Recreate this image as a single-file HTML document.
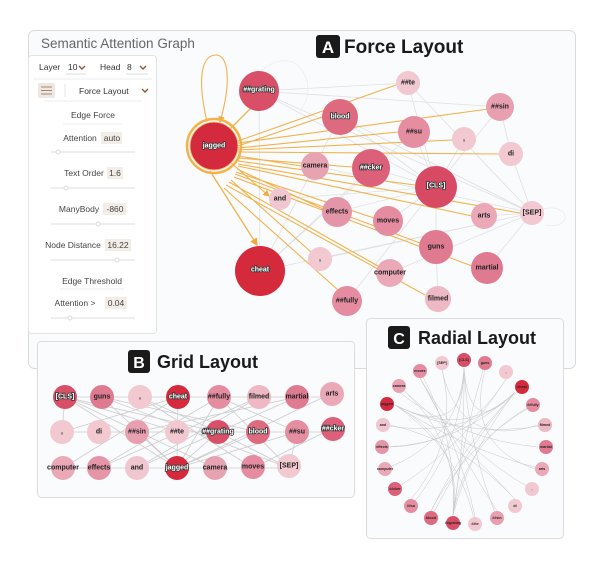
<!DOCTYPE html>
<html><head><meta charset="utf-8"><style>
body{margin:0;background:#fff;width:600px;height:567px;overflow:hidden;font-family:"Liberation Sans",sans-serif}
svg{display:block}
.t{font-family:"Liberation Sans",sans-serif;font-size:7px;font-weight:bold;fill:#222;text-anchor:middle;dominant-baseline:central}
.w{fill:#fff;stroke:#333;stroke-width:1.6;paint-order:stroke}
.s{font-family:"Liberation Sans",sans-serif;font-size:8.5px;fill:#444;text-anchor:middle}
.r{font-family:"Liberation Sans",sans-serif;font-size:3.6px;font-weight:bold;fill:#222;text-anchor:middle;dominant-baseline:central}
</style></head><body>
<svg width="600" height="567" viewBox="0 0 600 567">
<defs>
<marker id="ao" markerWidth="6" markerHeight="6" refX="5" refY="3" orient="auto"><path d="M0,0L6,3L0,6z" fill="#f0a93a"/></marker>
<marker id="ag" markerWidth="6" markerHeight="6" refX="5" refY="3" orient="auto"><path d="M0,0L6,3L0,6z" fill="#c8c8c8"/></marker>
</defs>
<!-- main panel -->
<rect x="28.5" y="30.5" width="547" height="338" rx="6" fill="#fafbfd" stroke="#d9d9d9"/>
<text x="41" y="48" font-size="13.5" fill="#666" font-family="Liberation Sans">Semantic Attention Graph</text>
<rect x="316" y="35" width="24" height="23" rx="3" fill="#1a1a1a"/>
<text x="328" y="53" font-size="17" font-weight="bold" fill="#fff" text-anchor="middle" font-family="Liberation Sans">A</text>
<text x="344" y="53" font-size="19" font-weight="bold" fill="#1a1a1a" font-family="Liberation Sans">Force Layout</text>
<!-- sidebar -->
<rect x="28.5" y="55.5" width="128" height="278" rx="3" fill="#fff" stroke="#e3e3e3"/>
<text x="39" y="70" font-size="8.5" fill="#333" font-family="Liberation Sans">Layer</text>
<text x="68" y="70" font-size="8.5" fill="#333" font-family="Liberation Sans">10</text>
<path d="M79,66l3,3l3,-3" stroke="#8a5a3a" stroke-width="1.4" fill="none"/>
<line x1="66" y1="74" x2="86" y2="74" stroke="#ddd"/>
<text x="100" y="70" font-size="8.5" fill="#333" font-family="Liberation Sans">Head</text>
<text x="127" y="70" font-size="8.5" fill="#333" font-family="Liberation Sans">8</text>
<path d="M140,66l3,3l3,-3" stroke="#8a5a3a" stroke-width="1.4" fill="none"/>
<line x1="126" y1="74" x2="148" y2="74" stroke="#ddd"/>
<line x1="33" y1="79" x2="152" y2="79" stroke="#eee"/>
<rect x="38" y="83" width="17" height="15" rx="2" fill="#efe8e2"/>
<path d="M41,87h11M41,90.5h11M41,94h11" stroke="#8a6a52" stroke-width="0.8"/>
<line x1="65" y1="84" x2="65" y2="97" stroke="#e5e5e5"/>
<text x="79" y="94" font-size="8.5" fill="#333" font-family="Liberation Sans">Force Layout</text>
<path d="M142,89l3,3l3,-3" stroke="#8a5a3a" stroke-width="1.4" fill="none"/>
<line x1="44" y1="101" x2="142" y2="101" stroke="#eee"/>
<text class="s" x="93" y="118" fill="#999">Edge Force</text>
<line x1="63" y1="124" x2="122" y2="124" stroke="#eee"/>
<text class="s" x="80" y="141">Attention</text><rect x="101" y="132" width="21" height="12" fill="#f3ede8"/><text class="s" x="112" y="141" fill="#8a6a52">auto</text>
<line x1="51" y1="152" x2="135" y2="152" stroke="#ddd"/><circle cx="58" cy="152" r="2" fill="#fff" stroke="#ddd"/>
<text class="s" x="84" y="176">Text Order</text><rect x="107" y="167" width="16" height="12" fill="#f3ede8"/><text class="s" x="115" y="176" fill="#8a6a52">1.6</text>
<line x1="51" y1="188" x2="135" y2="188" stroke="#ddd"/><circle cx="66" cy="188" r="2" fill="#fff" stroke="#ddd"/>
<text class="s" x="79" y="212">ManyBody</text><rect x="103" y="203" width="23" height="12" fill="#f3ede8"/><text class="s" x="115" y="212" fill="#8a6a52">-860</text>
<line x1="51" y1="224" x2="135" y2="224" stroke="#ddd"/><circle cx="98" cy="224" r="2" fill="#fff" stroke="#ddd"/>
<text class="s" x="73" y="248">Node Distance</text><rect x="105" y="239" width="26" height="12" fill="#f3ede8"/><text class="s" x="118" y="248" fill="#8a6a52">16.22</text>
<line x1="51" y1="260" x2="135" y2="260" stroke="#ddd"/><circle cx="117" cy="260" r="2" fill="#fff" stroke="#ddd"/>
<text class="s" x="92" y="284" fill="#999">Edge Threshold</text>
<line x1="60" y1="289" x2="124" y2="289" stroke="#eee"/>
<text class="s" x="75" y="306">Attention &gt;</text><rect x="105" y="297" width="22" height="12" fill="#f3ede8"/><text class="s" x="116" y="306" fill="#8a6a52">0.04</text>
<line x1="51" y1="318" x2="135" y2="318" stroke="#ddd"/><circle cx="70" cy="318" r="2" fill="#fff" stroke="#ddd"/>
<!-- gray edges force -->
<g stroke="#e0e0e0" stroke-width="0.8" fill="none" marker-end="url(#ag)">
<path d="M259,91L436,187M340,117L436,187M408,83L436,187M414,132L436,187M464,139L436,187M511,154L532,213M500,107L511,154M371,168L436,187M436,247L436,187M388,221L436,187M337,212L436,187M487,268L532,213M438,299L436,247M390,273L532,213M320,259L532,213M484,216L532,213M260,271L532,213M259,91L260,271M347,301L436,187M408,83L532,213M259,91L532,213M280,199L436,187M315,166L532,213M340,117L260,271M414,132L260,271M371,168L260,271M500,107L436,187M259,91L500,107M259,91L408,83M340,117L532,213"/>
</g>
<g stroke="#ececec" stroke-width="0.8" fill="none">
<path d="M262,70C300,40 320,90 300,110M540,210C570,200 575,230 545,225M260,250C240,240 230,290 250,285"/>
</g>
<!-- orange edges -->
<g stroke="#f2b24a" stroke-width="1.1" fill="none" marker-end="url(#ao)">
<path d="M238,141L396,85M238,143L496,108M238,146L322,117M238,148L398,132M238,150L452,140M238,152L499,154M238,156L301,166M238,158L352,167M238,161L415,185M238,164L520,213M238,166L472,216M237,169L323,209M236,172L374,218M235,174L420,243M234,177L472,266M231,180L311,252M229,182L378,266M226,185L425,295M224,188L338,290M230,162L269,196"/>
<path d="M230,129L251,108M210,171L257,245" stroke-width="1.3"/>
<path d="M207,122C195,70 205,55 216,55C228,55 232,80 220,122"/>
</g>
<!-- force nodes -->
<circle cx="214" cy="146" r="27" fill="none" stroke="#f2b24a" stroke-width="2.5"/>
<circle cx="214" cy="146" r="24" fill="#d42a3e" stroke="#f7c77a" stroke-width="1"/>
<text class="t w" x="214" y="146">jagged</text>
<circle cx="259" cy="91" r="20" fill="#d94f67"/><text class="t w" x="259" y="90">##grating</text>
<circle cx="260" cy="271" r="25" fill="#d42a3c"/><text class="t w" x="260" y="270">cheat</text>
<circle cx="280" cy="199" r="11" fill="#f0c6d0"/><text class="t" x="280" y="199">and</text>
<circle cx="315" cy="166" r="14" fill="#e8a3b3"/><text class="t" x="315" y="166">camera</text>
<circle cx="408" cy="83" r="12" fill="#f2c8d1"/><text class="t" x="408" y="83">##te</text>
<circle cx="340" cy="117" r="18" fill="#de6a80"/><text class="t w" x="340" y="117">blood</text>
<circle cx="500" cy="107" r="14" fill="#e8a0b1"/><text class="t" x="500" y="107">##sin</text>
<circle cx="414" cy="132" r="16" fill="#e58da1"/><text class="t" x="414" y="132">##su</text>
<circle cx="464" cy="139" r="12" fill="#f2c8d1"/><text class="t" x="464" y="139">,</text>
<circle cx="511" cy="154" r="12" fill="#f2c8d1"/><text class="t" x="511" y="154">di</text>
<circle cx="371" cy="168" r="19" fill="#dc6079"/><text class="t w" x="371" y="168">##cker</text>
<circle cx="436" cy="187" r="21" fill="#d84a64"/><text class="t w" x="436" y="186">[CLS]</text>
<circle cx="484" cy="216" r="13" fill="#eba9b8"/><text class="t" x="484" y="216">arts</text>
<circle cx="532" cy="213" r="12" fill="#f2c8d1"/><text class="t" x="532" y="213">[SEP]</text>
<circle cx="337" cy="212" r="15" fill="#e595a8"/><text class="t" x="337" y="212">effects</text>
<circle cx="388" cy="221" r="15" fill="#e58ca1"/><text class="t" x="388" y="221">moves</text>
<circle cx="436" cy="247" r="17" fill="#e07a91"/><text class="t" x="436" y="247">guns</text>
<circle cx="487" cy="268" r="16" fill="#e07a91"/><text class="t" x="487" y="268">martial</text>
<circle cx="320" cy="259" r="12" fill="#f2c8d1"/><text class="t" x="320" y="259">,</text>
<circle cx="390" cy="273" r="14" fill="#eba9b8"/><text class="t" x="390" y="273">computer</text>
<circle cx="347" cy="301" r="15" fill="#e58ca1"/><text class="t" x="347" y="301">##fully</text>
<circle cx="438" cy="299" r="13" fill="#eeb8c4"/><text class="t" x="438" y="299">filmed</text>

<!-- grid panel -->
<rect x="37.5" y="341.5" width="317" height="156" rx="4" fill="#fafbfd" stroke="#dcdcdc"/>
<rect x="128" y="350" width="22" height="23" rx="3" fill="#1a1a1a"/>
<text x="139" y="368" font-size="16" font-weight="bold" fill="#fff" text-anchor="middle" font-family="Liberation Sans">B</text>
<text x="157" y="368" font-size="18" font-weight="bold" fill="#1a1a1a" font-family="Liberation Sans">Grid Layout</text>
<g stroke="#cccccc" stroke-width="0.8" fill="none">
<path d="M65,397H332M62,432H333M63,468H289M65,397L177,468M102,397L177,468M140,397L218,432M178,397L63,468M219,397L177,468M259,397L99,468M297,397L137,468M332,393L177,468M62,432L178,397M99,432L218,432M137,432L297,397M177,432L65,397M218,432L289,468M258,432L102,397M297,432L177,468M333,428L253,468M63,468L178,397M99,468L219,397M137,468L259,397M215,468L65,397M253,468L140,397M289,468L219,397M177,468L297,432M65,397L62,432M178,397L177,468M102,397L289,468M219,397L297,432M218,432L65,397M218,432L177,468M258,432L177,468M297,432L289,468M137,432L177,468"/>
</g>
<g>
<circle cx="65" cy="397" r="12" fill="#d94f67"/><text class="t w" x="65" y="397">[CLS]</text>
<circle cx="102" cy="397" r="12" fill="#e07a91"/><text class="t" x="102" y="397">guns</text>
<circle cx="140" cy="397" r="12" fill="#f2c8d1"/><text class="t" x="140" y="397">,</text>
<circle cx="178" cy="397" r="12" fill="#d42a3c"/><text class="t w" x="178" y="397">cheat</text>
<circle cx="219" cy="397" r="12" fill="#e58ca1"/><text class="t" x="219" y="397">##fully</text>
<circle cx="259" cy="397" r="12" fill="#eeb8c4"/><text class="t" x="259" y="397">filmed</text>
<circle cx="297" cy="397" r="12" fill="#e07a91"/><text class="t" x="297" y="397">martial</text>
<circle cx="332" cy="394" r="12" fill="#eba9b8"/><text class="t" x="332" y="394">arts</text>
<circle cx="62" cy="432" r="12" fill="#f2c8d1"/><text class="t" x="62" y="432">,</text>
<circle cx="99" cy="432" r="12" fill="#f2c8d1"/><text class="t" x="99" y="432">di</text>
<circle cx="137" cy="432" r="12" fill="#e8a0b1"/><text class="t" x="137" y="432">##sin</text>
<circle cx="177" cy="432" r="12" fill="#f2c8d1"/><text class="t" x="177" y="432">##te</text>
<circle cx="218" cy="432" r="12" fill="#d94f67"/><text class="t w" x="218" y="432">##grating</text>
<circle cx="258" cy="432" r="12" fill="#de6a80"/><text class="t w" x="258" y="432">blood</text>
<circle cx="297" cy="432" r="12" fill="#e58da1"/><text class="t" x="297" y="432">##su</text>
<circle cx="333" cy="429" r="12" fill="#dc6079"/><text class="t w" x="333" y="429">##cker</text>
<circle cx="63" cy="468" r="12" fill="#eba9b8"/><text class="t" x="63" y="468">computer</text>
<circle cx="99" cy="468" r="12" fill="#e595a8"/><text class="t" x="99" y="468">effects</text>
<circle cx="137" cy="468" r="12" fill="#f0c6d0"/><text class="t" x="137" y="468">and</text>
<circle cx="177" cy="468" r="12" fill="#d42a3e"/><text class="t w" x="177" y="468">jagged</text>
<circle cx="215" cy="468" r="12" fill="#e8a3b3"/><text class="t" x="215" y="468">camera</text>
<circle cx="253" cy="467" r="12" fill="#e58ca1"/><text class="t" x="253" y="467">moves</text>
<circle cx="289" cy="466" r="12" fill="#f2c8d1"/><text class="t" x="289" y="466">[SEP]</text>
</g>

<!-- radial panel -->
<rect x="366.5" y="318.5" width="197" height="220" rx="4" fill="#fafbfd" stroke="#dcdcdc"/>
<rect x="388" y="326" width="22" height="23" rx="3" fill="#1a1a1a"/>
<text x="399" y="344" font-size="16" font-weight="bold" fill="#fff" text-anchor="middle" font-family="Liberation Sans">C</text>
<text x="418" y="344" font-size="18" font-weight="bold" fill="#1a1a1a" font-family="Liberation Sans">Radial Layout</text>
<g stroke="#c8c8c8" stroke-width="0.5" fill="none">
<path d="M464,368Q464,440 395,405M464,368Q465,445 453,515M464,368Q470,440 515,392M515,392Q465,440 395,405M515,392Q470,450 453,515M395,405Q465,445 453,515M442,370Q460,440 411,499M485,370Q465,445 535,469M420,378Q455,445 497,511M506,379Q465,445 390,447M399,392Q460,440 538,447M533,405Q465,445 431,511M538,425Q460,450 442,370M390,425Q460,440 515,499M475,517Q460,445 420,378M431,511Q465,440 522,387M532,489Q460,450 420,378M395,489Q465,445 506,379M515,499Q460,440 399,386M464,368Q460,440 385,469M464,368Q468,445 497,518M464,368Q462,445 411,506M395,405Q465,440 545,425M395,405Q465,450 542,469M395,405Q460,450 475,524M515,392Q460,445 385,447M515,392Q465,450 431,518M515,392Q465,440 383,425M453,515Q460,440 399,386M453,515Q465,440 533,405M453,515Q462,440 485,363M453,515Q458,440 420,371"/>
</g>
<g>
<circle cx="464" cy="360" r="7" fill="#d94f67"/><text class="r" x="464" y="360">[CLS]</text>
<circle cx="485" cy="363" r="7" fill="#e07a91"/><text class="r" x="485" y="363">guns</text>
<circle cx="506" cy="372" r="7" fill="#f2c8d1"/><text class="r" x="506" y="372">,</text>
<circle cx="522" cy="387" r="7" fill="#d42a3c"/><text class="r" x="522" y="387">cheat</text>
<circle cx="533" cy="405" r="7" fill="#e58ca1"/><text class="r" x="533" y="405">##fully</text>
<circle cx="545" cy="425" r="7" fill="#eeb8c4"/><text class="r" x="545" y="425">filmed</text>
<circle cx="546" cy="447" r="7" fill="#e07a91"/><text class="r" x="546" y="447">martial</text>
<circle cx="542" cy="469" r="7" fill="#eba9b8"/><text class="r" x="542" y="469">arts</text>
<circle cx="532" cy="489" r="7" fill="#f2c8d1"/><text class="r" x="532" y="489">,</text>
<circle cx="515" cy="506" r="7" fill="#f2c8d1"/><text class="r" x="515" y="506">di</text>
<circle cx="497" cy="518" r="7" fill="#e8a0b1"/><text class="r" x="497" y="518">##sin</text>
<circle cx="475" cy="524" r="7" fill="#f2c8d1"/><text class="r" x="475" y="524">##te</text>
<circle cx="453" cy="523" r="7" fill="#d94f67"/><text class="r" x="453" y="523">##grating</text>
<circle cx="431" cy="518" r="7" fill="#de6a80"/><text class="r" x="431" y="518">blood</text>
<circle cx="411" cy="506" r="7" fill="#e58da1"/><text class="r" x="411" y="506">##su</text>
<circle cx="395" cy="489" r="7" fill="#dc6079"/><text class="r" x="395" y="489">##cker</text>
<circle cx="385" cy="469" r="7" fill="#eba9b8"/><text class="r" x="385" y="469">computer</text>
<circle cx="382" cy="447" r="7" fill="#e595a8"/><text class="r" x="382" y="447">effects</text>
<circle cx="383" cy="425" r="7" fill="#f0c6d0"/><text class="r" x="383" y="425">and</text>
<circle cx="387" cy="404" r="7" fill="#d42a3e"/><text class="r" x="387" y="404">jagged</text>
<circle cx="399" cy="386" r="7" fill="#e8a3b3"/><text class="r" x="399" y="386">camera</text>
<circle cx="420" cy="371" r="7" fill="#e58ca1"/><text class="r" x="420" y="371">moves</text>
<circle cx="442" cy="363" r="7" fill="#f2c8d1"/><text class="r" x="442" y="363">[SEP]</text>
</g>
</svg>
</body></html>
